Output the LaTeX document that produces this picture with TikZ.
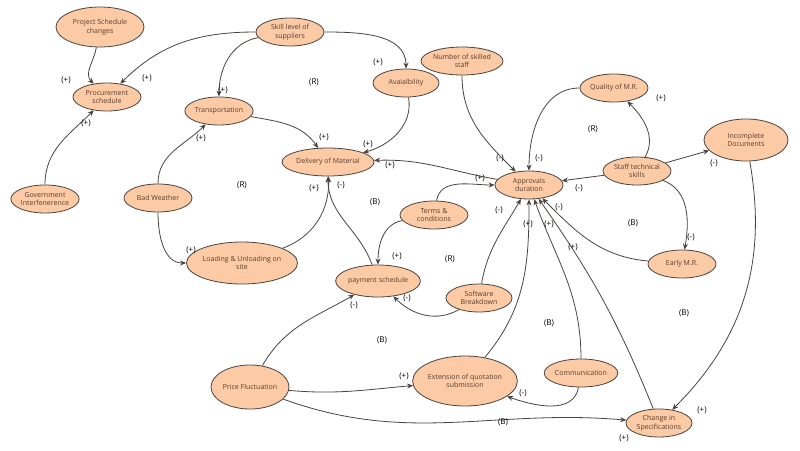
\documentclass[tikz,border=0pt]{standalone}
\usepackage{fontspec}
\setmainfont{Open Sans}
\usetikzlibrary{shapes.geometric,arrows.meta}
\definecolor{peach}{HTML}{FCCBA6}
\definecolor{edge}{HTML}{4A4440}
\definecolor{txt}{HTML}{5A3C2C}
\begin{document}
\begin{tikzpicture}[x=1pt,y=1pt,
  v/.style={ellipse,draw=edge,line width=0.8pt,fill=peach,text=txt,inner sep=0pt,align=center,font=\fontsize{7}{8.5}\selectfont},
  e/.style={draw=edge,line width=0.8pt,-{Stealth[length=6pt,width=5pt]}},
  l/.style={font=\fontsize{8}{9}\selectfont,text=black}]
\useasboundingbox (0,0) rectangle (800,-450);
\fill[white] (0,0) rectangle (800,-450);
\node[v,minimum width=88,minimum height=40] (PSC) at (100,-27) {Project Schedule\\changes};
\node[v,minimum width=68,minimum height=28] (PS) at (107,-97) {Procurement\\schedule};
\node[v,minimum width=68,minimum height=28] (GI) at (45,-199) {Government\\Interfenerence};
\node[v,minimum width=68,minimum height=28] (SLS) at (290,-32) {Skill level of\\suppliers};
\node[v,minimum width=68,minimum height=28] (TR) at (219,-111) {Transportation};
\node[v,minimum width=66,minimum height=28] (AV) at (406,-83) {Avaialbility};
\node[v,minimum width=68,minimum height=28] (NSS) at (462,-61) {Number of skilled\\staff};
\node[v,minimum width=92,minimum height=28] (DM) at (328,-162) {Delivery of Material};
\node[v,minimum width=68,minimum height=28] (BW) at (158,-198) {Bad Weather};
\node[v,minimum width=96,minimum height=42] (LU) at (242,-263) {Loading \& Unloading on\\site};
\node[v,minimum width=68,minimum height=28] (TC) at (434,-215) {Terms \&\\conditions};
\node[v,minimum width=70,minimum height=32] (PAY) at (378,-281) {payment schedule};
\node[v,minimum width=66,minimum height=28] (SB) at (479,-298) {Software\\Breakdown};
\node[v,minimum width=68,minimum height=28] (AD) at (529,-185) {Approvals\\duration};
\node[v,minimum width=68,minimum height=28] (QMR) at (614,-88) {Quality of M.R.};
\node[v,minimum width=68,minimum height=28] (STS) at (637,-171) {Staff technical\\skills};
\node[v,minimum width=84,minimum height=42] (ID) at (746,-140) {Incomplete\\Documents};
\node[v,minimum width=68,minimum height=28] (EMR) at (682,-264) {Early M.R.};
\node[v,minimum width=78,minimum height=44] (PF) at (250,-387) {Price Fluctuation};
\node[v,minimum width=96,minimum height=50] (EQS) at (465,-381) {Extension of quotation\\submission};
\node[v,minimum width=66,minimum height=28] (COM) at (581,-373) {Communication};
\node[v,minimum width=66,minimum height=28] (CS) at (659,-423) {Change in\\Specifications};

\draw[e] (PSC) to[out=-100,in=135] (PS);
\draw[e] (SLS) to[out=180,in=45] (PS);
\draw[e] (GI) to[out=90,in=-135] (PS);
\draw[e] (SLS) to[out=190,in=90] (TR);
\draw[e] (SLS) to[out=0,in=90] (AV);
\draw[e] (TR) to[out=-10,in=125] (DM);
\draw[e] (BW) to[out=90,in=-135] (TR);
\draw[e] (BW) to[out=-90,in=180] (LU);
\draw[e] (AV) to[out=-80,in=15] (DM);
\draw[e] (AD) to[out=170,in=2] (DM);
\draw[e] (LU) to[out=20,in=-88] (DM);
\draw[e] (PAY) to[out=110,in=-90] (DM);
\draw[e] (NSS) to[out=-90,in=135] (AD);
\draw[e] (QMR) to[out=180,in=90] (AD);
\draw[e] (TC) to[out=80,in=180] (AD);
\draw[e] (TC) to[out=190,in=90] (PAY);
\draw[e] (SB) to[out=-150,in=-45] (PAY);
\draw[e] (SB) to[out=80,in=-120] (AD);
\draw[e] (STS) -- (AD);
\draw[e] (STS) to[out=60,in=-45] (QMR);
\draw[e] (STS) -- (ID);
\draw[e] (STS) to[out=-20,in=80] (EMR);
\draw[e] (EMR) to[out=175,in=-45] (AD);
\draw[e] (EQS) to[out=50,in=-90] (AD);
\draw[e] (COM) to[out=90,in=-70] (AD);
\draw[e] (CS) to[out=112,in=-55] (AD);
\draw[e] (COM) to[out=-100,in=-20] (EQS);
\draw[e] (PF) to[out=60,in=-150] (PAY);
\draw[e] (PF) to[out=-5,in=185] (EQS);
\draw[e] (PF) to[out=-20,in=175] (CS);
\draw[e] (ID) to[out=-80,in=45] (CS);

\node[l] (a1) at (66,-80) {(+)};
\node[l] (a2) at (147,-78) {(+)};
\node[l] (a3) at (86,-123) {(+)};
\node[l] (a4) at (223,-90) {(+)};
\node[l] (a5) at (378,-62) {(+)};
\node[l] (a6) at (324,-137) {(+)};
\node[l] (a7) at (201,-138) {(+)};
\node[l] (a8) at (191,-250) {(+)};
\node[l] (a9) at (368,-144) {(+)};
\node[l] (a10) at (390,-165) {(+)};
\node[l] (a11) at (314,-188) {(+)};
\node[l] (a12) at (341,-185) {(-)};
\node[l] (a13) at (500,-158) {(-)};
\node[l] (a14) at (539,-158) {(-)};
\node[l] (a15) at (480,-178) {(+)};
\node[l] (a16) at (397,-256) {(+)};
\node[l] (a17) at (407,-298) {(-)};
\node[l] (a18) at (499,-210) {(-)};
\node[l] (a19) at (579,-188) {(-)};
\node[l] (a20) at (661,-98) {(+)};
\node[l] (a21) at (714,-163) {(-)};
\node[l] (a22) at (691,-237) {(-)};
\node[l] (a23) at (559,-207) {(-)};
\node[l] (a24) at (528,-224) {(+)};
\node[l] (a25) at (549,-224) {(+)};
\node[l] (a26) at (573,-247) {(+)};
\node[l] (a27) at (523,-393) {(-)};
\node[l] (a28) at (354,-305) {(-)};
\node[l] (a29) at (404,-376) {(+)};
\node[l] (a30) at (624,-438) {(+)};
\node[l] (a31) at (702,-410) {(+)};
\node[l] (r1) at (314,-82) {(R)};
\node[l] (r2) at (242,-185) {(R)};
\node[l] (r3) at (375,-202) {(B)};
\node[l] (r4) at (450,-259) {(R)};
\node[l] (r5) at (593,-129) {(R)};
\node[l] (r6) at (633,-223) {(B)};
\node[l] (r7) at (382,-340) {(B)};
\node[l] (r8) at (549,-323) {(B)};
\node[l] (r9) at (684,-313) {(B)};
\node[l] (r10) at (503,-422) {(B)};
\end{tikzpicture}
\end{document}
